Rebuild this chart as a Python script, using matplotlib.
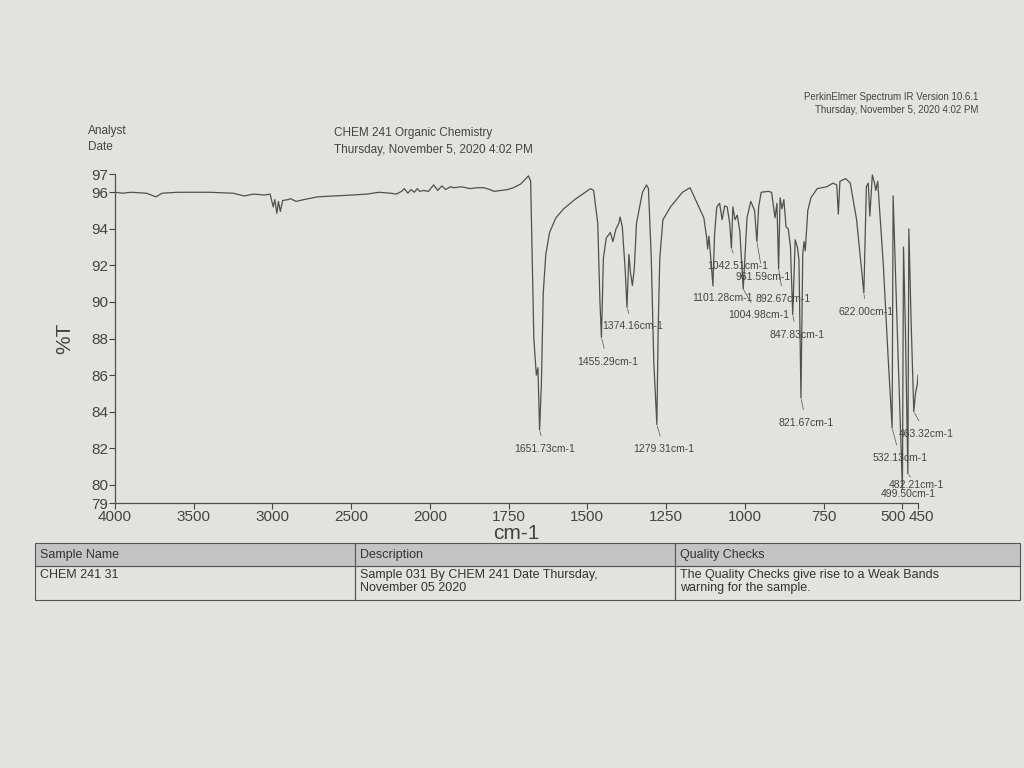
import matplotlib
matplotlib.use('Agg')
import matplotlib.pyplot as plt
from matplotlib.patches import Rectangle
from matplotlib.transforms import ScaledTranslation
import numpy as np

plt.rcParams['font.family'] = ['Liberation Sans', 'DejaVu Sans']

# IR spectrum (wavenumber cm-1, %T)
wavenumber = [4000, 3950, 3900, 3800, 3740, 3700, 3600, 3400, 3250, 3180, 3120, 3050,
              3015, 2995, 2985, 2972, 2962, 2950, 2935, 2900, 2885, 2850, 2800, 2714,
              2600, 2495, 2400, 2324, 2250, 2214, 2180, 2162, 2140, 2120, 2100, 2080,
              2065, 2040, 2010, 1988, 1975, 1962, 1950, 1935, 1924, 1900, 1872, 1850,
              1828, 1810, 1796, 1775, 1753, 1735, 1712, 1695, 1687, 1680, 1670, 1662,
              1657, 1651.73, 1646, 1640, 1632, 1620, 1600, 1575, 1540, 1507, 1490, 1480,
              1467, 1460, 1455.29, 1449, 1440, 1427, 1419, 1409, 1400, 1396, 1389, 1380,
              1374.16, 1368, 1363, 1357, 1351, 1344, 1325, 1312, 1306, 1297, 1289, 1279.31,
              1275, 1270, 1260, 1236, 1198, 1174, 1130, 1121, 1118, 1114, 1109, 1101.28,
              1096, 1089, 1080, 1072, 1064, 1056, 1048, 1042.51, 1038, 1031, 1024, 1016,
              1004.98, 993, 981, 969, 961.59, 956, 948, 925, 915, 904, 898, 892.67,
              888, 882, 876, 869, 862, 855, 847.83, 840, 833, 828, 821.67, 816,
              812, 808, 800, 790, 770, 740, 720, 708, 703, 698, 680, 665,
              645, 622.00, 614, 608, 603, 595, 588, 584, 578, 560, 545, 532.13,
              529, 515, 499.50, 496, 490, 482.21, 479, 472, 463.32, 458, 452, 450]
transmittance = [96.0, 95.95, 96.0, 95.95, 95.75, 95.95, 96.0, 96.0, 95.95, 95.8, 95.9, 95.85,
                 95.9, 95.2, 95.6, 94.85, 95.5, 94.95, 95.55, 95.6, 95.65, 95.5, 95.6, 95.75,
                 95.8, 95.85, 95.9, 96.0, 95.95, 95.9, 96.05, 96.2, 95.95, 96.15, 96.0, 96.2,
                 96.05, 96.1, 96.05, 96.4, 96.1, 96.35, 96.15, 96.3, 96.25, 96.3, 96.2, 96.25,
                 96.25, 96.15, 96.05, 96.1, 96.15, 96.25, 96.45, 96.75, 96.9, 96.6, 88.0, 86.0,
                 86.4, 83.0, 85.5, 90.5, 92.6, 93.8, 94.6, 95.1, 95.6, 96.0, 96.2, 96.1,
                 94.3, 90.0, 88.05, 92.4, 93.5, 93.8, 93.3, 94.0, 94.3, 94.65, 94.1, 91.8,
                 89.7, 92.6, 91.6, 90.9, 91.8, 94.3, 96.0, 96.4, 96.2, 92.4, 86.7, 83.3,
                 88.6, 92.4, 94.5, 95.2, 96.0, 96.25, 94.6, 93.5, 92.9, 93.6, 92.6, 90.9,
                 93.7, 95.2, 95.4, 94.5, 95.25, 95.2, 94.3, 92.95, 95.2, 94.5, 94.75, 93.9,
                 90.7, 94.6, 95.5, 95.0, 93.3, 95.2, 96.0, 96.05, 96.0, 94.6, 95.4, 91.8,
                 95.7, 95.1, 95.6, 94.1, 94.0, 93.0, 89.3, 93.4, 93.0, 92.3, 84.75, 92.6,
                 93.3, 92.8, 95.0, 95.7, 96.2, 96.3, 96.5, 96.4, 94.8, 96.6, 96.75, 96.5,
                 94.5, 90.5, 96.3, 96.5, 94.7, 96.95, 96.5, 96.1, 96.6, 92.0, 87.0, 83.1,
                 95.8, 88.0, 79.8, 93.0, 88.5, 80.6, 94.0, 89.0, 84.0, 85.0, 85.5, 86.0]

# labelled peaks
peak_wn = [1651.73, 1455.29, 1374.16, 1279.31, 1101.28, 1042.51, 1004.98, 961.59,
           892.67, 847.83, 821.67, 622.00, 532.13, 463.32, 482.21, 499.50]
peak_t = [83.0, 88.05, 89.7, 83.3, 90.9, 92.95, 90.7, 93.3,
          91.8, 89.3, 84.75, 90.5, 83.1, 84.0, 80.6, 79.8]
# label offsets from the peak, in pixels (right, down)
label_dx = [5, 6, 6, 7, 10, 6, 15, 6, 5, 4, 5, 2, 8, 12, 9, 6]
label_dy = [19, 24, 19, 25, 13, 18, 26, 35, 30, 20, 25, 19, 30, 22, 11, 6]

x_ticks = [4000, 3500, 3000, 2500, 2000, 1750, 1500, 1250, 1000, 750, 500, 450]
y_ticks = [79, 80, 82, 84, 86, 88, 90, 92, 94, 96, 97]

table_header = ['Sample Name', 'Description', 'Quality Checks']
table_row = ['CHEM 241 31',
             'Sample 031 By CHEM 241 Date Thursday,\nNovember 05 2020',
             'The Quality Checks give rise to a Weak Bands\nwarning for the sample.']


# PerkinElmer style axis: scale doubles below 2000 cm-1
def fwd(x):
    x = np.asarray(x, dtype=float)
    return np.where(x >= 2000, x / 500.0, 4 + (x - 2000) / 250.0)


def inv(u):
    u = np.asarray(u, dtype=float)
    return np.where(u >= 4, u * 500.0, 2000 + (u - 4) * 250.0)


paper = '#e2e2df'
ink = '#505050'

fig = plt.figure(figsize=(10.24, 7.68), dpi=100, facecolor=paper)
ax = fig.add_axes([115 / 1024, 1 - 503 / 768, 803 / 1024, 329 / 768])
ax.set_facecolor('none')
ax.set_xscale('function', functions=(fwd, inv))
ax.set_xlim(4000, 450)
ax.set_ylim(79, 97)

ax.plot(wavenumber, transmittance, color=ink, lw=0.9)

for w, t, dx, dy in zip(peak_wn, peak_t, label_dx, label_dy):
    ax.annotate(f'{w:.2f}cm-1', xy=(w, t), xytext=(dx * 0.72, -dy * 0.72),
                textcoords='offset points', ha='center', va='center',
                fontsize=7.5, color='#444444',
                arrowprops=dict(arrowstyle='-', lw=0.5, color=ink,
                                shrinkA=4, shrinkB=1))

ax.set_xticks(x_ticks)
ax.set_xticklabels([str(v) for v in x_ticks])
ax.set_yticks(y_ticks)
ax.set_yticklabels([str(v) for v in y_ticks])
ax.xaxis.set_minor_locator(matplotlib.ticker.NullLocator())
ax.tick_params(labelsize=11, colors='#444444', length=4, width=0.8, pad=1)
# "500" and "450" sit side by side on the printout
lab500 = ax.get_xticklabels()[-2]
lab500.set_ha('right')
lab500.set_transform(lab500.get_transform() + ScaledTranslation(4 / 100, 0, fig.dpi_scale_trans))
lab450 = ax.get_xticklabels()[-1]
lab450.set_transform(lab450.get_transform() + ScaledTranslation(3 / 100, 0, fig.dpi_scale_trans))

for s in ['top', 'right']:
    ax.spines[s].set_visible(False)
for s in ['left', 'bottom']:
    ax.spines[s].set_color(ink)
    ax.spines[s].set_linewidth(0.9)
ax.set_xlabel('cm-1', fontsize=15, color='#444444', labelpad=0)
ax.set_ylabel('%T', fontsize=15, color='#444444', labelpad=12)

# header text
fig.text(88 / 1024, 1 - 131 / 768, 'Analyst', fontsize=8.5, color='#444444', va='center')
fig.text(88 / 1024, 1 - 147 / 768, 'Date', fontsize=8.5, color='#444444', va='center')
fig.text(334 / 1024, 1 - 133 / 768, 'CHEM 241 Organic Chemistry', fontsize=8.5,
         color='#444444', va='center')
fig.text(334 / 1024, 1 - 150 / 768, 'Thursday, November 5, 2020 4:02 PM', fontsize=8.5,
         color='#444444', va='center')
fig.text(978 / 1024, 1 - 97 / 768, 'PerkinElmer Spectrum IR Version 10.6.1', fontsize=7,
         color='#444444', va='center', ha='right')
fig.text(978 / 1024, 1 - 110 / 768, 'Thursday, November 5, 2020 4:02 PM', fontsize=7,
         color='#444444', va='center', ha='right')

# sample table
col_x = [35, 355, 675, 1020]
row_y = [543, 566, 600]
W, H = 1024, 768
for i in range(3):
    x0, x1 = col_x[i], col_x[i + 1]
    fig.patches.append(Rectangle((x0 / W, 1 - row_y[1] / H), (x1 - x0) / W,
                                 (row_y[1] - row_y[0]) / H, transform=fig.transFigure,
                                 facecolor='#c4c4c4', edgecolor='#555555', lw=0.8))
    fig.patches.append(Rectangle((x0 / W, 1 - row_y[2] / H), (x1 - x0) / W,
                                 (row_y[2] - row_y[1]) / H, transform=fig.transFigure,
                                 facecolor='none', edgecolor='#555555', lw=0.8))
    fig.text((x0 + 5) / W, 1 - 555 / H, table_header[i], fontsize=9, color='#333333',
             va='center')
    fig.text((x0 + 5) / W, 1 - 569 / H, table_row[i], fontsize=9, color='#333333',
             va='top', linespacing=1.15)

fig.savefig('out.png', dpi=100, facecolor=paper)
